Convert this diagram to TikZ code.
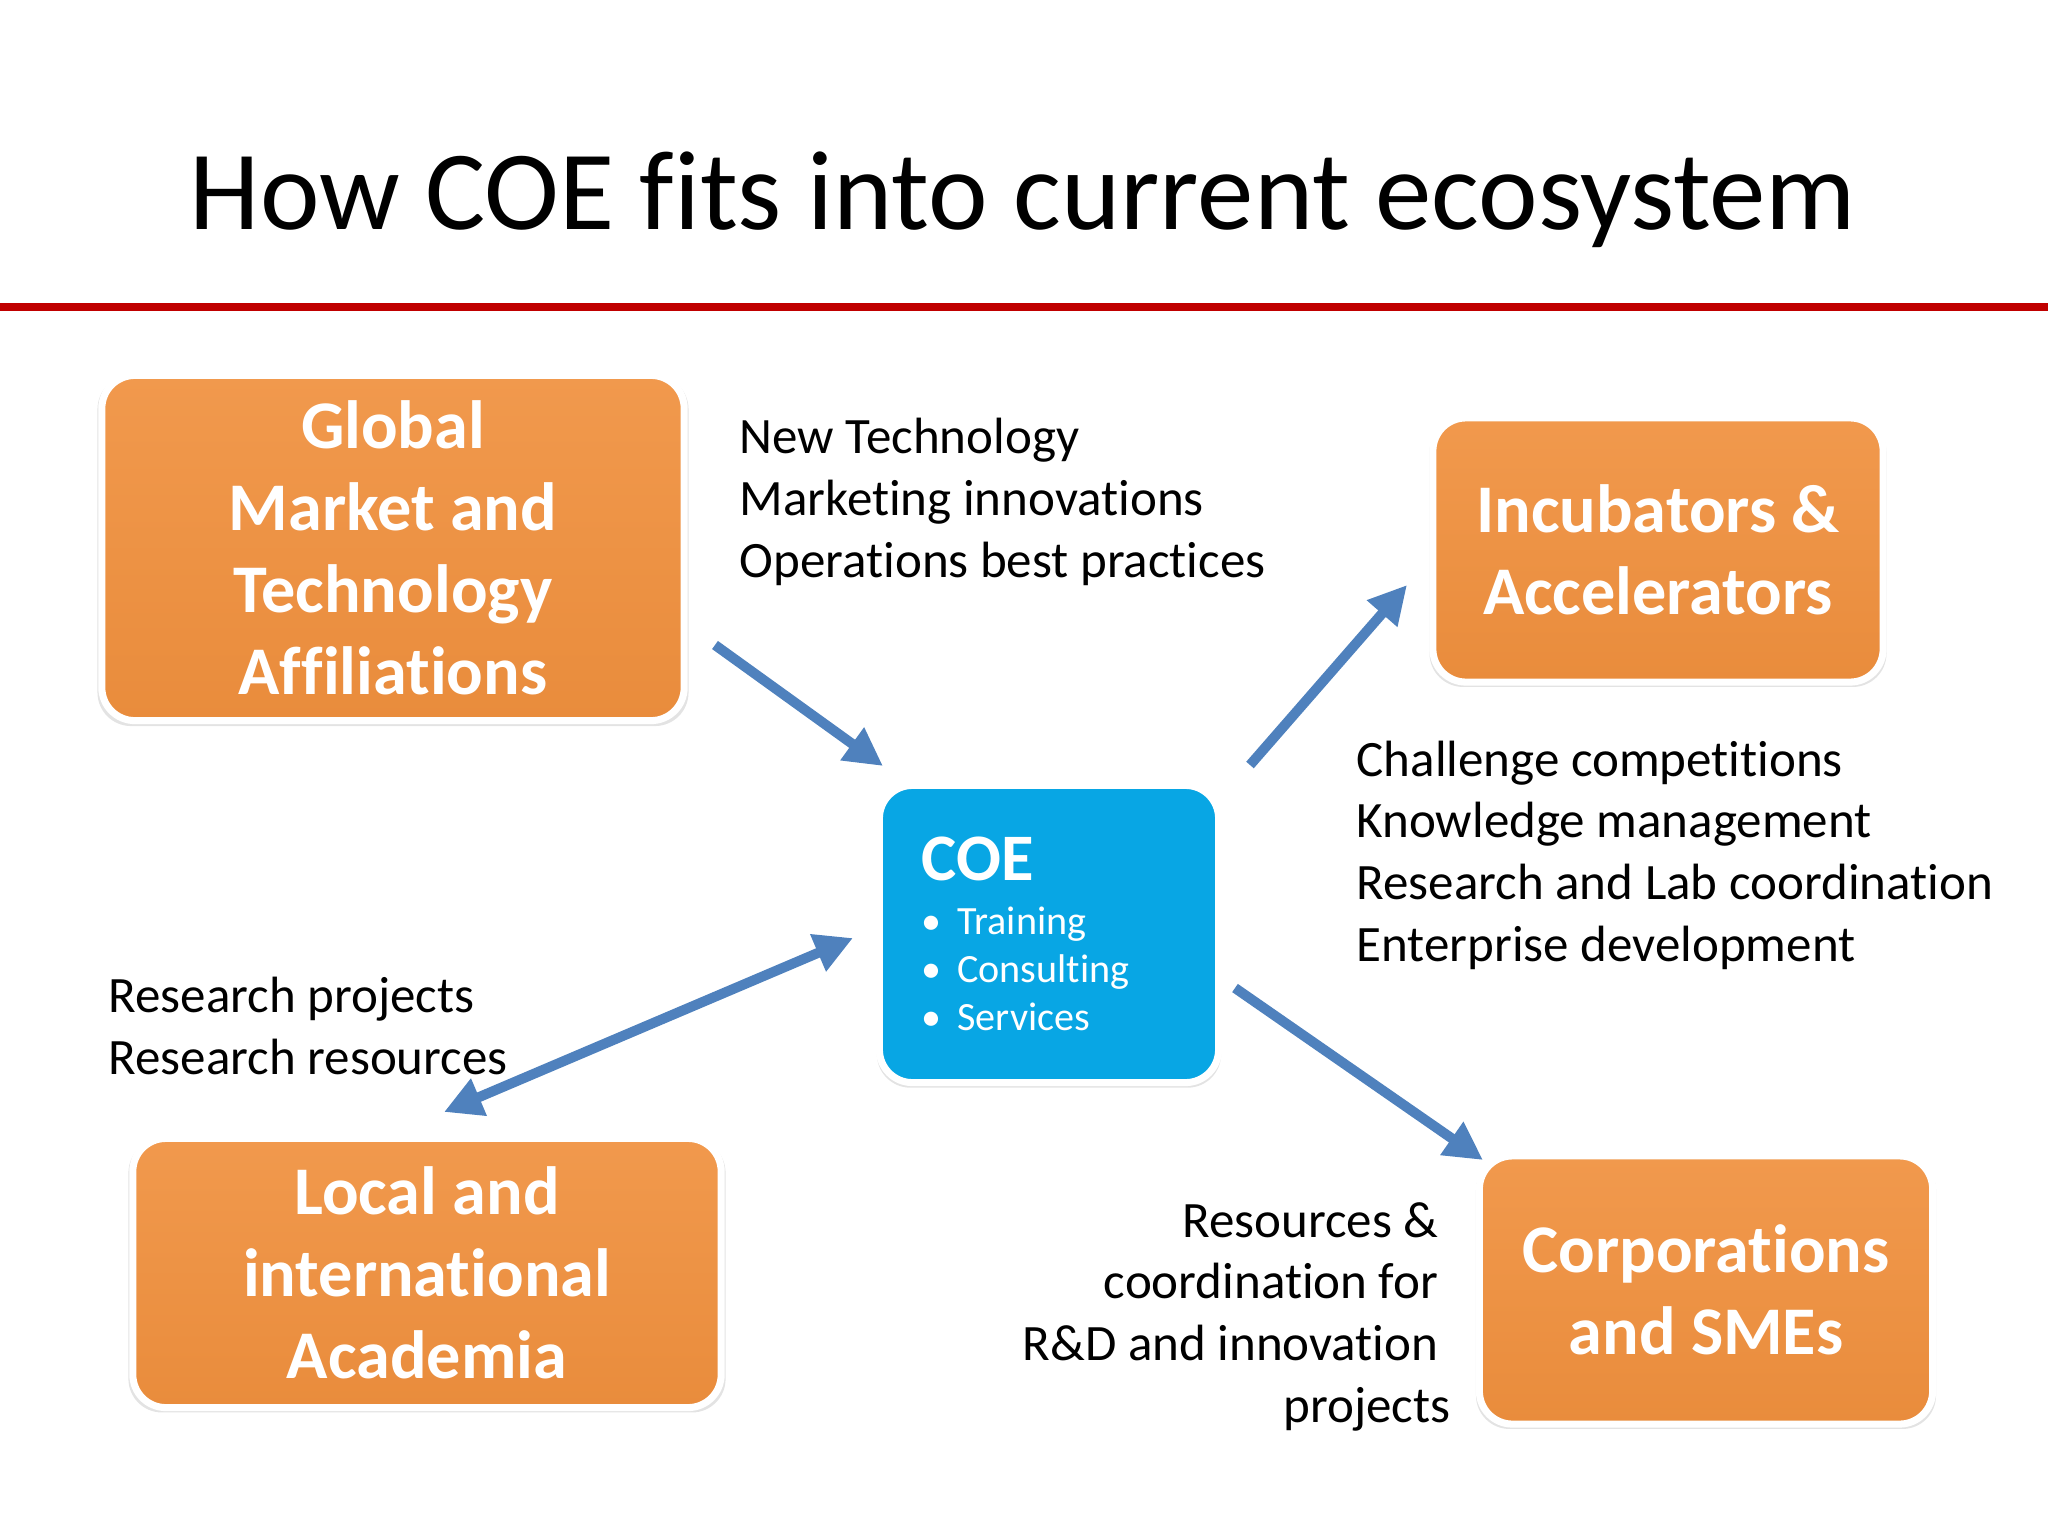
\documentclass[tikz,border=0pt]{standalone}
\usepackage{fontspec}
\setmainfont{Carlito}[Ligatures=CommonOff]
\usetikzlibrary{arrows.meta, positioning, shadows}
\definecolor{boxorange}{RGB}{239,148,70}
\definecolor{orangetop}{RGB}{241,153,77}
\definecolor{orangebot}{RGB}{233,140,60}
\definecolor{coeblue}{RGB}{8,166,228}
\definecolor{arrowblue}{RGB}{79,129,189}
\definecolor{rulered}{RGB}{192,0,0}
\newcommand{\titlefont}{\fontsize{32.1}{38}\selectfont}
\newcommand{\blockfont}{\fontsize{19.4}{23.3}\bfseries\selectfont}
\newcommand{\notefont}{\fontsize{14.5}{17.5}\selectfont}
\newcommand{\coefont}{\fontsize{18.9}{22}\bfseries\selectfont}
\newcommand{\itemfont}{\fontsize{11.4}{13.7}\selectfont}
\newcommand{\bul}[1]{\makebox[0.36cm][l]{\textbullet}#1}

\begin{document}
\begin{tikzpicture}[x=0.01cm, y=-0.01cm, >={Triangle[length=0.38cm, width=0.38cm]},
  block/.style={rounded corners=0.33cm, draw=white, line width=2pt, text=white,
    align=center, inner sep=0pt, font=\blockfont,
    drop shadow={opacity=0.22, shadow scale=1.015, shadow xshift=0pt, shadow yshift=-0.8pt}},
  orangebox/.style={block, top color=orangetop, bottom color=orangebot},
  note/.style={inner sep=0pt, font=\notefont, text=black},
  flow/.style={arrowblue, line width=0.1cm}]
  \useasboundingbox (0,0) rectangle (2048,1536);

  % Title and rule
  \node[anchor=base, font=\titlefont] (title) at (1023,229) {How COE fits into current ecosystem};
  \draw[rulered, line width=0.08cm] (0,307) -- (2048,307);

  % Boxes
  \node[orangebox, minimum width=5.82cm, minimum height=3.45cm] (global) at (393,548)
    {Global\\Market and\\Technology\\Affiliations};
  \node[orangebox, minimum width=4.50cm, minimum height=2.64cm] (incub) at (1658,550)
    {Incubators \&\\Accelerators};
  \node[block, fill=coeblue, minimum width=3.39cm, minimum height=2.97cm,
    align=left, text width=2.55cm, inner xsep=0.42cm, font=\itemfont] (coe) at (1049,934)
    {{\coefont COE}\\[0.05cm] \bul{Training}\\ \bul{Consulting}\\ \bul{Services}};
  \node[orangebox, minimum width=5.88cm, minimum height=2.69cm] (local) at (427,1273)
    {Local and\\international\\Academia};
  \node[orangebox, minimum width=4.53cm, minimum height=2.68cm] (corp) at (1706,1290)
    {Corporations\\and SMEs};

  % Labels (anchored near the last line)
  \node[note, anchor=base west, align=left] (tech) at (739,577)
    {New Technology\\Marketing innovations\\Operations best practices};
  \node[note, anchor=base west, align=left] (chall) at (1356,961)
    {Challenge competitions\\Knowledge management\\Research and Lab coordination\\Enterprise development};
  \node[note, anchor=base west, align=left] (resea) at (108,1074)
    {Research projects\\Research resources};
  \node[note, anchor=base east, align=right] (rescoord) at (1439,1422)
    {Resources \&\\coordination for\\R\&D and innovation\\projects\hspace*{-0.12cm}};

  % Arrow ends
  \coordinate (g1) at (715,645);  \coordinate (c1) at (883,766);
  \coordinate (c2) at (1250,765); \coordinate (i2) at (1407,585);
  \coordinate (c3) at (1235,988); \coordinate (s3) at (1483,1160);
  \coordinate (c4) at (853,938);  \coordinate (l4) at (444,1112);

  % Arrows
  \draw[flow, ->] (g1) -- (c1);
  \draw[flow, ->] (c2) -- (i2);
  \draw[flow, ->] (c3) -- (s3);
  \draw[flow, <->] (l4) -- (c4);
\end{tikzpicture}
\end{document}
